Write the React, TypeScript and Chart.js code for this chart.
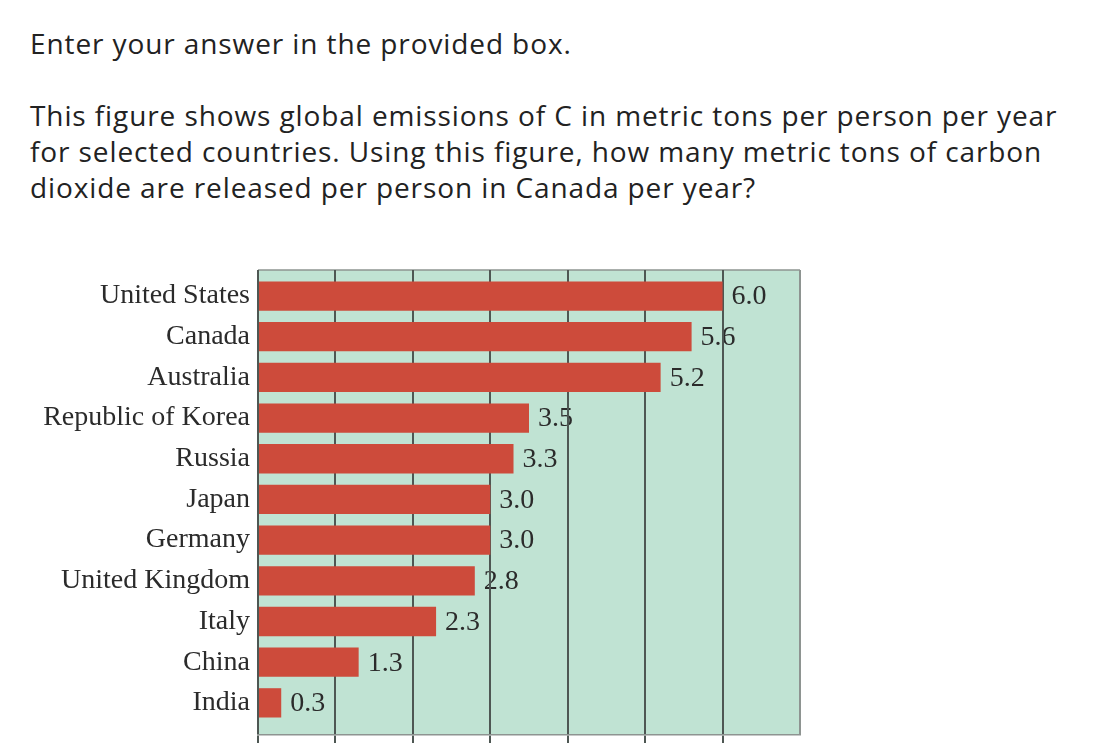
import React, { useEffect, useRef } from "react";
import { Chart, registerables } from "chart.js";

Chart.register(...registerables);

const countries: string[] = [
  "United States",
  "Canada",
  "Australia",
  "Republic of Korea",
  "Russia",
  "Japan",
  "Germany",
  "United Kingdom",
  "Italy",
  "China",
  "India",
];

const emissions: number[] = [6.0, 5.6, 5.2, 3.5, 3.3, 3.0, 3.0, 2.8, 2.3, 1.3, 0.3];

const valueLabels: string[] = ["6.0", "5.6", "5.2", "3.5", "3.3", "3.0", "3.0", "2.8", "2.3", "1.3", "0.3"];

const xMin = 0;
const xMax = 7;

const MINT = "#c0e3d3";
const BAR = "#cd4b3b";
const GRID_DARK = "#4e5753";
const GRID_LIGHT = "#8e9491";
const SERIF = "'Liberation Serif', 'Times New Roman', serif";

const plotPlugin = {
  id: "plotDecor",
  beforeDraw(chart: any) {
    const { ctx, chartArea } = chart;
    if (!chartArea) return;
    ctx.save();
    ctx.fillStyle = MINT;
    ctx.fillRect(chartArea.left, chartArea.top, chartArea.right - chartArea.left, chartArea.bottom - chartArea.top);
    ctx.strokeStyle = GRID_LIGHT;
    ctx.lineWidth = 1.5;
    ctx.beginPath();
    ctx.moveTo(chartArea.left, chartArea.top);
    ctx.lineTo(chartArea.right, chartArea.top);
    ctx.stroke();
    const meta = chart.getDatasetMeta(0);
    ctx.font = `28px ${SERIF}`;
    ctx.fillStyle = "#2b2b2b";
    ctx.textAlign = "left";
    ctx.textBaseline = "middle";
    meta.data.forEach((bar: any, i: number) => {
      ctx.fillText(valueLabels[i], bar.x + 9, bar.y + 1);
    });
    ctx.restore();
  },
};

export default function App() {
  const canvasRef = useRef<HTMLCanvasElement | null>(null);

  useEffect(() => {
    if (!canvasRef.current) return;
    const chart = new Chart(canvasRef.current, {
      type: "bar",
      data: {
        datasets: [
          {
            label: "Emissions",
            data: emissions.map((v, i) => ({ x: v, y: i })),
            backgroundColor: BAR,
            borderWidth: 0,
            barPercentage: 0.72,
            categoryPercentage: 1,
          },
        ],
      },
      options: {
        indexAxis: "y",
        animation: false,
        responsive: true,
        maintainAspectRatio: false,
        layout: { padding: { top: 20, right: 30, left: 0, bottom: 0 } },
        plugins: {
          legend: { display: false },
          tooltip: { enabled: false },
        },
        scales: {
          x: {
            type: "linear",
            min: xMin,
            max: xMax,
            ticks: { display: false, stepSize: 1 },
            grid: {
              display: true,
              drawTicks: true,
              tickLength: 8,
              lineWidth: 2,
              color: (c: any) => (c.tick && c.tick.value === xMax ? GRID_LIGHT : GRID_DARK),
              tickColor: (c: any) => (c.tick && c.tick.value === xMax ? "rgba(0,0,0,0)" : GRID_DARK),
            },
            border: { display: true, color: GRID_LIGHT, width: 1.5 },
            afterFit: (scale: any) => {
              scale.height = 9;
              scale.paddingLeft = 0;
              scale.paddingRight = 0;
            },
          },
          y: {
            type: "linear",
            reverse: true,
            offset: false,
            bounds: "data",
            min: -0.64,
            max: 10.79,
            afterBuildTicks: (scale: any) => {
              scale.ticks = countries.map((_, i) => ({ value: i }));
            },
            ticks: {
              padding: 8,
              stepSize: 1,
              color: "#2b2b2b",
              font: { family: SERIF, size: 28 },
              callback: (v: any) => countries[Math.round(Number(v))] ?? "",
            },
            grid: { display: false, drawTicks: false, offset: false },
            border: { display: false },
            afterFit: (scale: any) => {
              scale.width = 258;
              scale.paddingTop = 0;
              scale.paddingBottom = 0;
            },
          },
        },
      },
      plugins: [plotPlugin],
    } as any);
    return () => chart.destroy();
  }, []);

  const textStyle: React.CSSProperties = {
    position: "absolute",
    left: 30,
    fontFamily: "'Open Sans', Lato, sans-serif",
    fontSize: 28,
    letterSpacing: "0.9px",
    lineHeight: "36px",
    color: "#222",
    whiteSpace: "nowrap",
  };

  return (
    <div style={{ position: "absolute", left: 0, top: 0, width: 1100, height: 744, background: "#fff", overflow: "hidden" }}>
      <div style={{ ...textStyle, top: 25 }}>Enter your answer in the provided box.</div>
      <div style={{ ...textStyle, top: 97 }}>
        This figure shows global emissions of C in metric tons per person per year
        <br />
        for selected countries. Using this figure, how many metric tons of carbon
        <br />
        dioxide are released per person in Canada per year?
      </div>
      <div style={{ position: "absolute", left: 0, top: 250, width: 830, height: 494 }}>
        <canvas ref={canvasRef} />
      </div>
    </div>
  );
}
